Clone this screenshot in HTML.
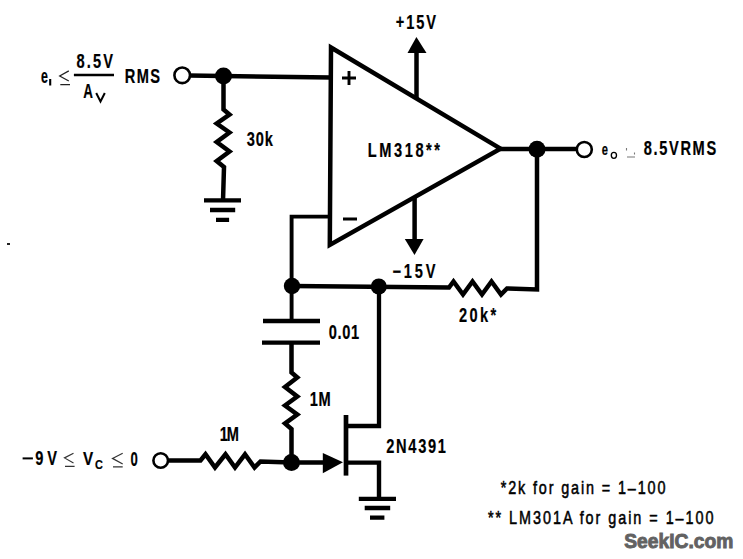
<!DOCTYPE html>
<html><head><meta charset="utf-8">
<style>
html,body{margin:0;padding:0;background:#fff;}
body{width:743px;height:559px;overflow:hidden;}
svg{display:block;}
text{font-family:"Liberation Sans",sans-serif;}
</style></head><body>
<svg width="743" height="559" viewBox="0 0 743 559">
<g fill="none" stroke="#000" stroke-width="4.5" stroke-linejoin="miter" stroke-linecap="butt">
  <path d="M189 75.5 L331 77.6"/>
  <path d="M223.5 76 L223.5 109.5 L229.5 114.5 L216.7 123.5 L229.5 132.5 L216.7 142 L229.5 151.5 L216.7 161 L224 167 L223 201"/>
  <path d="M204 200.4 H241 M210 210 H235.2 M216 219.8 H229.1" stroke-width="4.3"/>
  <path d="M331 47.5 L329.8 245 L500.5 148.6 Z" stroke-width="4.5"/>
  <path d="M416.5 52 V99"/>
  <path d="M414.6 196 V240"/>
  <path d="M500 149 H577"/>
  <path d="M537 149 V289.5 L507 288.5 L501 294.5 L491.5 281.5 L482 294.5 L472.5 281.5 L463 294.5 L453.5 281.5 L449 287.5 L292 286"/>
  <path d="M331 216.6 H291.6 V321" stroke-width="3.9"/>
  <path d="M263 321 H320 M262 342.6 H320" stroke-width="4.3"/>
  <path d="M291.5 342.6 V372.5 L297.3 377.5 L285 387 L297.3 396.5 L285 405.5 L297.3 414.5 L285 423.5 L291.5 429 V462.5"/>
  <path d="M168 460.5 H200.5 L205.5 454.3 L215 467.5 L225.5 454.3 L235 467.5 L245 454.3 L254.5 467.5 L260.5 461.5 L291 462.5 H324"/>
  <path d="M346 415 V475.6" stroke-width="4.7"/>
  <path d="M346 426 H379 V286" stroke-width="4.3"/>
  <path d="M346 462.6 H379 V499" stroke-width="4.4"/>
  <path d="M358.8 498.8 H396 M364.7 508 H390.2 M370 517.7 H384.4" stroke-width="4.3"/>
  <path d="M342 78 H356 M349 71 V85 M343 219 H357" stroke-width="2.9"/>
  <circle cx="182.2" cy="75.3" r="7.8" stroke-width="2.6"/>
  <circle cx="584.3" cy="149.5" r="7.5" stroke-width="2.6"/>
  <circle cx="160.7" cy="460.5" r="7.3" stroke-width="2.6"/>
</g>
<g fill="#000" stroke="none">
  <circle cx="223.5" cy="76" r="8.5"/>
  <circle cx="537" cy="149.2" r="8.5"/>
  <circle cx="292" cy="286" r="8.2"/>
  <circle cx="378.8" cy="286.5" r="8"/>
  <circle cx="291.5" cy="462.5" r="8.5"/>
  <polygon points="416.4,37 407.5,53 426.5,53"/>
  <polygon points="404.8,239 423.6,239 414.5,255"/>
  <polygon points="322.8,453 322.8,473.3 343,462.3"/>
</g>
<g fill="none" stroke="#000">
  <path d="M50.2 79 V85.5" stroke-width="2.1"/>
  <path d="M68.8 70.9 L59.7 76 L68.8 81 M60.3 84.5 H70" stroke-width="1.25" stroke="#222"/>
  <path d="M73.9 75 H114" stroke-width="2.3"/>
  <path d="M96.2 93 L100.5 101.5 L104.8 93" stroke-width="2"/>
  <ellipse cx="613.9" cy="155.3" rx="2.6" ry="3" stroke-width="1.35"/>
  <path d="M626.5 148 V150.5 M634.5 152.5 V154.5 M627 157 H635" stroke-width="1.1" stroke="#777"/>
  <path d="M22.6 458.4 H32.9" stroke-width="2"/>
  <path d="M73.5 453.3 L64.5 457.9 L73.5 463 M65 466.3 H74.6" stroke-width="1.2" stroke="#333"/>
  <path d="M122.7 453.3 L112.5 458.4 L122.7 464 M113 466.9 H122.7" stroke-width="1.2" stroke="#333"/>
</g>
<text transform="translate(395.70,28.90) scale(0.75,1)" x="0" y="0" textLength="53.73" lengthAdjust="spacing" style="font-size:19.5px;font-weight:bold;fill:#000;stroke:#000;stroke-width:0.2px">+15V</text>
<text transform="translate(392.50,277.60) scale(0.75,1)" x="0" y="0" textLength="57.33" lengthAdjust="spacing" style="font-size:19.5px;font-weight:bold;fill:#000;stroke:#000;stroke-width:0.2px">−15V</text>
<text transform="translate(367.80,156.90) scale(0.75,1)" x="0" y="0" textLength="96.27" lengthAdjust="spacing" style="font-size:19.5px;font-weight:bold;fill:#000;stroke:#000;stroke-width:0.2px">LM318**</text>
<text transform="translate(246.80,145.70) scale(0.75,1)" x="0" y="0" textLength="34.93" lengthAdjust="spacing" style="font-size:19.5px;font-weight:bold;fill:#000;stroke:#000;stroke-width:0.2px">30k</text>
<text transform="translate(459.00,322.20) scale(0.75,1)" x="0" y="0" textLength="49.60" lengthAdjust="spacing" style="font-size:19.5px;font-weight:bold;fill:#000;stroke:#000;stroke-width:0.2px">20k*</text>
<text transform="translate(328.70,339.40) scale(0.75,1)" x="0" y="0" textLength="40.53" lengthAdjust="spacing" style="font-size:19.5px;font-weight:bold;fill:#000;stroke:#000;stroke-width:0.2px">0.01</text>
<text transform="translate(309.80,406.00) scale(0.75,1)" x="0" y="0" textLength="28.00" lengthAdjust="spacing" style="font-size:19.5px;font-weight:bold;fill:#000;stroke:#000;stroke-width:0.2px">1M</text>
<text transform="translate(219.70,441.20) scale(0.75,1)" x="0" y="0" textLength="25.60" lengthAdjust="spacing" style="font-size:19.5px;font-weight:bold;fill:#000;stroke:#000;stroke-width:0.2px">1M</text>
<text transform="translate(386.20,453.00) scale(0.75,1)" x="0" y="0" textLength="79.73" lengthAdjust="spacing" style="font-size:19.5px;font-weight:bold;fill:#000;stroke:#000;stroke-width:0.2px">2N4391</text>
<text transform="translate(41.00,82.80) scale(0.75,1)" x="0" y="0" textLength="9.20" lengthAdjust="spacingAndGlyphs" style="font-size:19.5px;font-weight:bold;fill:#000;stroke:#000;stroke-width:0.2px">e</text>
<text transform="translate(76.50,67.50) scale(0.75,1)" x="0" y="0" textLength="48.67" lengthAdjust="spacing" style="font-size:19.5px;font-weight:bold;fill:#000;stroke:#000;stroke-width:0.2px">8.5V</text>
<text transform="translate(83.30,98.00) scale(0.75,1)" x="0" y="0" textLength="12.93" lengthAdjust="spacingAndGlyphs" style="font-size:19.5px;font-weight:bold;fill:#000;stroke:#000;stroke-width:0.2px">A</text>
<text transform="translate(124.80,83.00) scale(0.75,1)" x="0" y="0" textLength="46.93" lengthAdjust="spacing" style="font-size:19.5px;font-weight:bold;fill:#000;stroke:#000;stroke-width:0.2px">RMS</text>
<text transform="translate(601.70,154.50) scale(0.75,1)" x="0" y="0" textLength="8.27" lengthAdjust="spacingAndGlyphs" style="font-size:17px;font-weight:bold;fill:#000;stroke:#000;stroke-width:0.2px">e</text>
<text transform="translate(643.70,154.90) scale(0.75,1)" x="0" y="0" textLength="96.67" lengthAdjust="spacing" style="font-size:19.5px;font-weight:bold;fill:#000;stroke:#000;stroke-width:0.2px">8.5VRMS</text>
<text transform="translate(35.20,465.00) scale(0.75,1)" x="0" y="0" textLength="29.07" lengthAdjust="spacing" style="font-size:19.5px;font-weight:bold;fill:#000;stroke:#000;stroke-width:0.2px">9V</text>
<text transform="translate(83.10,464.80) scale(0.75,1)" x="0" y="0" textLength="13.60" lengthAdjust="spacingAndGlyphs" style="font-size:19.2px;font-weight:bold;fill:#000;stroke:#000;stroke-width:0.2px">V</text>
<text transform="translate(95.00,468.60) scale(0.75,1)" x="0" y="0" textLength="10.53" lengthAdjust="spacingAndGlyphs" style="font-size:13.5px;font-weight:bold;fill:#000;stroke:#000;stroke-width:0.2px">C</text>
<text transform="translate(130.60,465.60) scale(0.75,1)" x="0" y="0" textLength="9.73" lengthAdjust="spacingAndGlyphs" style="font-size:19.5px;font-weight:bold;fill:#000;stroke:#000;stroke-width:0.2px">0</text>
<text transform="translate(500.70,493.50) scale(0.75,1)" x="0" y="0" textLength="219.60" lengthAdjust="spacing" style="font-size:19.2px;font-weight:normal;fill:#000;stroke:#000;stroke-width:0.55px">*2k for gain = 1–100</text>
<text transform="translate(488.00,524.20) scale(0.75,1)" x="0" y="0" textLength="300.67" lengthAdjust="spacing" style="font-size:19.2px;font-weight:normal;fill:#000;stroke:#000;stroke-width:0.55px">** LM301A for gain = 1–100</text>
<text x="624.3" y="548" textLength="109" lengthAdjust="spacingAndGlyphs" style="font-size:19.5px;font-weight:bold;fill:#626262;stroke:#626262;stroke-width:0.9px">SeekIC.com</text>
<rect x="7" y="243" width="3" height="2" fill="#222"/>
</svg>
</body></html>
